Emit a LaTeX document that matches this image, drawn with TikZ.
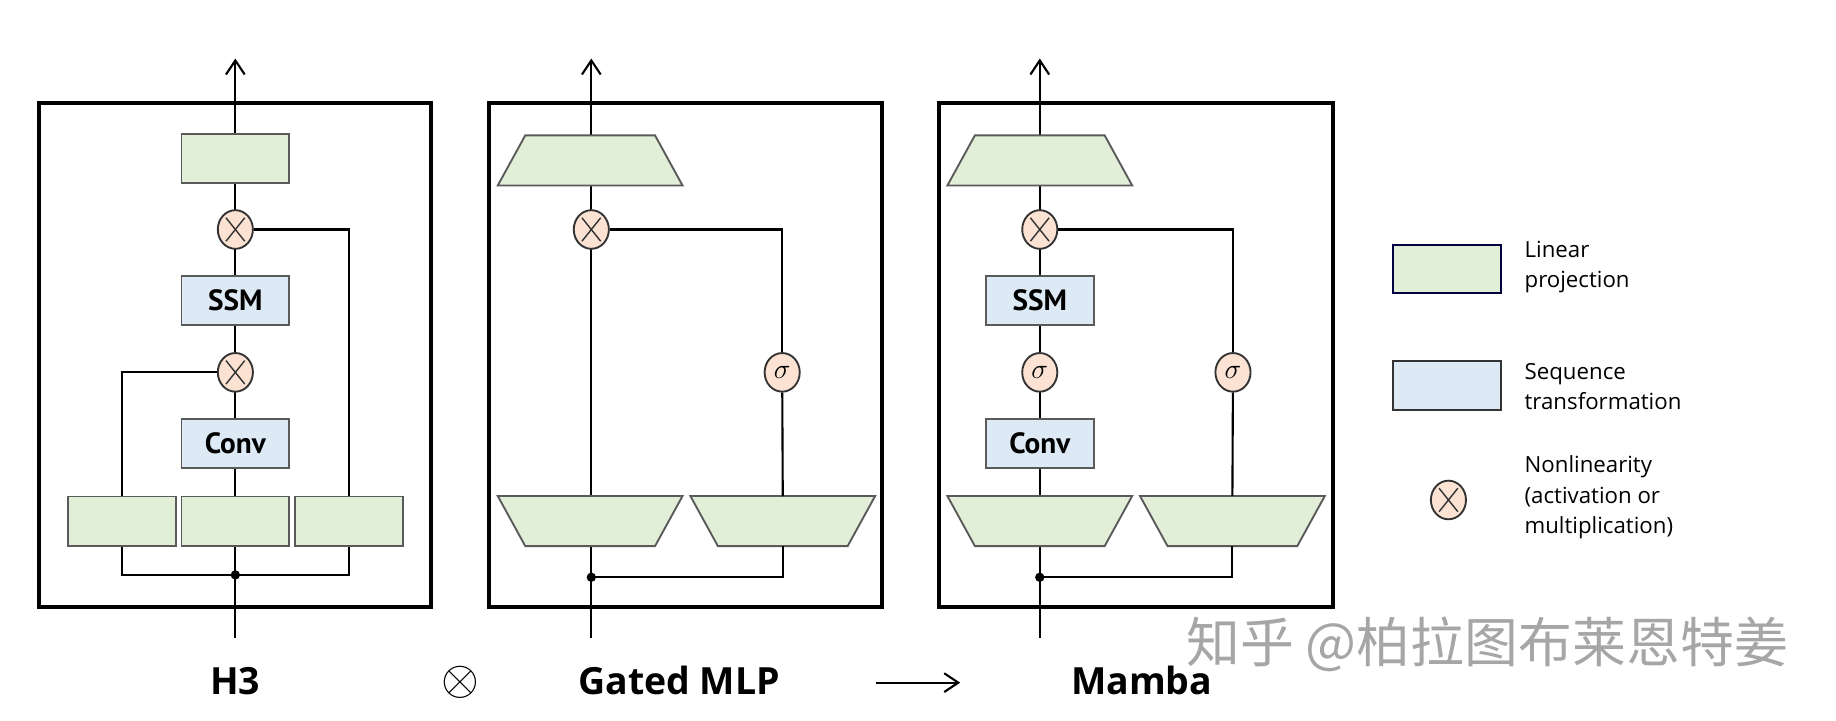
\documentclass[tikz,border=0pt]{standalone}
\usepackage{fontspec}
\setmainfont{Open Sans}
\newfontfamily\condb{PT Sans}
\newfontfamily\cjkf{Noto Sans CJK SC}
\usetikzlibrary{shapes.geometric,arrows.meta}
\definecolor{lingreen}{HTML}{E1EED8}
\definecolor{seqblue}{HTML}{DDE9F5}
\definecolor{nlpeach}{HTML}{FBE2D2}
\definecolor{edgegray}{HTML}{5A5A5A}
\begin{document}
\begin{tikzpicture}[x=0.5pt,y=-0.5pt,
  conn/.style={line width=0.9pt,black},
  frame/.style={draw,line width=1.7pt},
  lin/.style={draw=edgegray,fill=lingreen,line width=0.8pt,minimum width=46pt,minimum height=21pt,inner sep=0pt},
  seq/.style={draw=edgegray,fill=seqblue,line width=0.8pt,minimum width=46pt,minimum height=21pt,inner sep=0pt,font=\condb\bfseries\fontsize{12.5}{13}\selectfont},
  trapbox/.style={minimum width=78.5pt,minimum height=21pt,inner sep=0pt},
  trapline/.style={draw=edgegray,fill=lingreen,line width=0.8pt},
  nl/.style={ellipse,draw=black!80,fill=nlpeach,line width=0.8pt,minimum width=15pt,minimum height=16.5pt,inner sep=0pt},
  otimes/.style={nl,path picture={\draw[line width=0.6pt] ([xshift=-4pt,yshift=-5pt]path picture bounding box.center)--([xshift=4pt,yshift=5pt]path picture bounding box.center) ([xshift=-4pt,yshift=5pt]path picture bounding box.center)--([xshift=4pt,yshift=-5pt]path picture bounding box.center);}},
  sig/.style={nl,font=\itshape\fontsize{12}{12}\selectfont},
  lbl/.style={font=\bfseries\fontsize{16}{20}\selectfont,anchor=base},
  leg/.style={font=\fontsize{9.5}{13}\selectfont,align=left,anchor=west},
  tip/.style={-{Straight Barb[length=6pt,width=8pt,line width=0.9pt]}}
]
\newcommand\trapup[1]{\draw[trapline] ([xshift=11.75pt]#1.north west) -- ([xshift=-11.75pt]#1.north east) -- (#1.south east) -- (#1.south west) -- cycle;}
\newcommand\trapdn[1]{\draw[trapline] (#1.north west) -- (#1.north east) -- ([xshift=-11.75pt]#1.south east) -- ([xshift=11.75pt]#1.south west) -- cycle;}
\useasboundingbox (0,0) rectangle (1568,615);
\fill[white] (0,0) rectangle (1568,615);

% ---------- H3 ----------
\node[frame,minimum width=167.5pt,minimum height=215pt] (h3box) at (200.5,303) {};
\coordinate (h3in) at (201,545);
\coordinate (h3out) at (201,50);
\coordinate (h3j) at (201,491);
\draw[conn,tip] (h3in) -- (h3out);
\node[lin] (h3top) at (201,135.5) {};
\node[otimes] (h3o1) at (201,196) {};
\node[seq] (h3ssm) at (201,256.5) {SSM};
\node[otimes] (h3o2) at (201,318) {};
\node[seq] (h3conv) at (201,378.5) {Conv};
\node[lin] (h3l) at (104,445) {};
\node[lin] (h3m) at (201,445) {};
\node[lin] (h3r) at (298,445) {};
\draw[conn] (h3l.south) |- (h3j) -| (h3r.south);
\draw[conn] (h3l.north) |- (h3o2);
\draw[conn] (h3r.north) |- (h3o1);
\fill (h3j) circle (2pt);

% ---------- Gated MLP ----------
\node[frame,minimum width=167.5pt,minimum height=215pt] (gbox) at (585.5,303) {};
\coordinate (gin) at (505,545);
\coordinate (gout) at (505,50);
\coordinate (gj) at (505,493);
\draw[conn,tip] (gin) -- (gout);
\node[trapbox] (gtop) at (504,137) {}; \trapup{gtop}
\node[otimes] (go) at (505,196) {};
\node[sig] (gs) at (668,318) {$\sigma$};
\node[trapbox] (gl) at (504,445) {}; \trapdn{gl}
\node[trapbox] (gr) at (668.5,445) {}; \trapdn{gr}
\draw[conn] (gj) -| (gr.south);
\draw[conn] (gr.north) -- (gs);
\draw[conn] (gs) |- (go);
\fill (gj) circle (2pt);

% ---------- Mamba ----------
\node[frame,minimum width=168pt,minimum height=215pt] (mbox) at (970,303) {};
\coordinate (min) at (888,545);
\coordinate (mout) at (888,50);
\coordinate (mj) at (888,493);
\draw[conn,tip] (min) -- (mout);
\node[trapbox] (mtop) at (888,137) {}; \trapup{mtop}
\node[otimes] (mo) at (888,196) {};
\node[seq] (mssm) at (888,256.5) {SSM};
\node[sig] (ms1) at (888,318) {$\sigma$};
\node[seq] (mconv) at (888,378.5) {Conv};
\node[trapbox] (ml) at (888,445) {}; \trapdn{ml}
\node[trapbox] (mr) at (1052.5,445) {}; \trapdn{mr}
\node[sig] (ms2) at (1053,318) {$\sigma$};
\draw[conn] (mj) -| (mr.south);
\draw[conn] (mr.north) -- (ms2);
\draw[conn] (ms2) |- (mo);
\fill (mj) circle (2pt);

% ---------- Legend ----------
\node[draw=black!75!blue,fill=lingreen,line width=0.8pt,minimum width=46pt,minimum height=20.5pt,inner sep=0pt] (leglin) at (1236,229.5) {};
\node[leg] (leglintxt) at (1295,228) {Linear\\projection};
\node[draw=black!80,fill=seqblue,line width=0.8pt,minimum width=46pt,minimum height=21pt,inner sep=0pt] (legseq) at (1236,329) {};
\node[leg] (legseqtxt) at (1295,330) {Sequence\\transformation};
\node[otimes] (legnl) at (1237,427) {};
\node[leg] (legnltxt) at (1295,425) {Nonlinearity\\(activation or\\multiplication)};

% ---------- Bottom labels ----------
\node[lbl] (lh3) at (201,593) {H3};
\node[lbl,font=\fontsize{20}{20}\selectfont] (lx) at (393,593) {$\otimes$};
\node[lbl] (lg) at (580,593) {Gated MLP};
\node[lbl] (lm) at (975,593) {Mamba};
\coordinate (ar1) at (748,583);
\coordinate (ar2) at (820,583);
\draw[conn,tip] (ar1) -- (ar2);

% watermark
\node[font=\cjkf\fontsize{23}{24}\selectfont,text=black!35,anchor=west] (wm) at (1006,550) {知乎 @柏拉图布莱恩特姜};
\end{tikzpicture}
\end{document}
